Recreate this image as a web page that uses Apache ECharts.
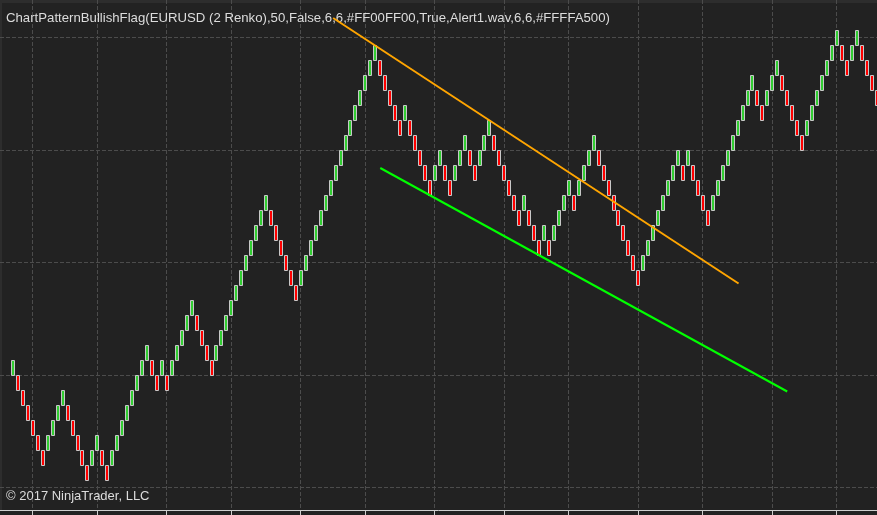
<!DOCTYPE html>
<html>
<head>
<meta charset="utf-8">
<script src="https://cdn.jsdelivr.net/npm/echarts@6/dist/echarts.min.js"></script>
<style>
html,body{margin:0;padding:0;background:#222222;overflow:hidden;}
#chart{width:877px;height:515px;}
</style>
</head>
<body>
<div id="chart"></div>
<script>
// ---- data (Renko bricks, in brick units) ----
const brickOpen = [
  0,0,-1,-2,-3,-4,-5,-5,-4,-3,
  -2,-2,-3,-4,-5,-6,-6,-5,-5,-6,
  -6,-5,-4,-3,-2,-1,0,1,1,0,
  0,0,0,1,2,3,4,4,3,2,
  1,1,2,3,4,5,6,7,8,9,
  10,11,11,10,9,8,7,6,6,7,
  8,9,10,11,12,13,14,15,16,17,
  18,19,20,21,21,20,19,18,17,17,
  17,16,15,14,13,13,14,14,13,13,
  14,15,15,14,14,15,16,16,15,14,
  13,12,11,11,11,10,9,9,9,9,
  10,11,12,12,12,13,14,15,15,14,
  13,12,11,10,9,8,7,7,8,9,
  10,11,12,13,14,14,14,14,13,12,
  11,11,12,13,14,15,16,17,18,19,
  19,18,18,19,20,20,19,18,17,16,
  16,17,18,19,20,21,22,22,21,21,
  22,22,21,20,19
];
const brickClose = [
  1,-1,-2,-3,-4,-5,-6,-4,-3,-2,
  -1,-3,-4,-5,-6,-7,-5,-4,-6,-7,
  -5,-4,-3,-2,-1,0,1,2,0,-1,
  1,-1,1,2,3,4,5,3,2,1,
  0,2,3,4,5,6,7,8,9,10,
  11,12,10,9,8,7,6,5,7,8,
  9,10,11,12,13,14,15,16,17,18,
  19,20,21,22,20,19,18,17,16,18,
  16,15,14,13,12,14,15,13,12,14,
  15,16,14,13,15,16,17,15,14,13,
  12,11,10,12,10,9,8,10,8,10,
  11,12,13,11,13,14,15,16,14,13,
  12,11,10,9,8,7,6,8,9,10,
  11,12,13,14,15,13,15,13,12,11,
  10,12,13,14,15,16,17,18,19,20,
  18,17,19,20,21,19,18,17,16,15,
  17,18,19,20,21,22,23,21,20,22,
  23,21,20,19,18
];
// Flag lines: [barIndex, level]
const upperFlagLine = [[64.5, 23.8], [146.2, 6.1]];
const lowerFlagLine = [[74, 13.8], [156, -1.1]];
// Grid positions (bar indices for time gridlines, levels for price gridlines)
const timeGridBars = [4, 17, 31, 44, 58, 71, 85, 99, 112, 126, 139, 153, 166];
const priceGridLevels = [22.5, 15, 7.5, 0, -7.5];
const titleText = 'ChartPatternBullishFlag(EURUSD (2 Renko),50,False,6,6,#FF00FF00,True,Alert1.wav,6,6,#FFFFA500)';
const copyrightText = '\u00A9 2017 NinjaTrader, LLC';

// ---- chart ----
const X_MIN = -2.62, X_MAX = 174.09, Y_MIN = -9, Y_MAX = 25;
const UP = '#32cd32', DOWN = '#ff0000', OUTLINE = '#c8c8c8';
const GRID = '#4c4c4c', AXIS = '#cfcfcf', TEXT = '#dcdcdc';
const FONT = '"Liberation Sans", Arial, sans-serif';

const bricks = brickOpen.map((o, i) => [i, o, brickClose[i]]);

const chart = echarts.init(document.getElementById('chart'), null, {renderer: 'canvas'});
chart.setOption({
  animation: false,
  backgroundColor: '#222222',
  title: [
    {text: titleText, left: 6, top: 12, padding: 0, z: 1,
     textStyle: {color: TEXT, fontSize: 13.2, fontWeight: 'normal', fontFamily: FONT}},
    {text: copyrightText, left: 6, top: 490, padding: 0, z: 1,
     textStyle: {color: TEXT, fontSize: 13, fontWeight: 'normal', fontFamily: FONT}}
  ],
  graphic: [
    {type: 'rect', left: 0, top: 0, shape: {width: 877, height: 3}, style: {fill: '#2d2d2d'}, z: -1, silent: true},
    {type: 'rect', left: 0, top: 0, shape: {width: 2, height: 510}, style: {fill: '#2d2d2d'}, z: -1, silent: true}
  ],
  grid: {left: 0, right: 0, top: 0, bottom: 5},
  xAxis: {
    type: 'value', min: X_MIN, max: X_MAX,
    axisLine: {show: true, onZero: false, lineStyle: {color: AXIS, width: 1}},
    axisTick: {show: false}, axisLabel: {show: false}, splitLine: {show: false}
  },
  yAxis: {
    type: 'value', min: Y_MIN, max: Y_MAX,
    axisLine: {show: false}, axisTick: {show: false}, axisLabel: {show: false}, splitLine: {show: false}
  },
  series: [
    {
      type: 'custom', name: 'timeGrid', silent: true, z: 1,
      data: timeGridBars.map(b => [b, 0]),
      renderItem(params, api) {
        const cs = params.coordSys;
        const x = Math.floor(api.coord([api.value(0), 0])[0]) + 0.5;
        const yb = cs.y + cs.height;
        return {type: 'group', children: [
          {type: 'line', shape: {x1: x, y1: cs.y, x2: x, y2: yb}, style: {stroke: GRID, lineWidth: 1, lineDash: [4, 2]}},
          {type: 'line', shape: {x1: x, y1: yb, x2: x, y2: yb + 6}, style: {stroke: AXIS, lineWidth: 1}}
        ]};
      }
    },
    {
      type: 'custom', name: 'priceGrid', silent: true, z: 1,
      data: priceGridLevels.map(v => [0, v]),
      renderItem(params, api) {
        const cs = params.coordSys;
        const y = Math.floor(api.coord([0, api.value(1)])[1]) + 0.5;
        return {type: 'line', shape: {x1: cs.x, y1: y, x2: cs.x + cs.width, y2: y},
                style: {stroke: GRID, lineWidth: 1, lineDash: [4, 2]}};
      }
    },
    {
      type: 'custom', name: 'EURUSD (2 Renko)', z: 3,
      data: bricks,
      encode: {x: 0, y: [1, 2]},
      renderItem(params, api) {
        const i = api.value(0), o = api.value(1), c = api.value(2);
        const pTop = api.coord([i, Math.max(o, c)]);
        const pBot = api.coord([i, Math.min(o, c)]);
        const col = Math.round(pTop[0]);
        const yt = Math.round(pTop[1]), yb = Math.round(pBot[1]);
        return {type: 'rect',
          shape: {x: col - 1.5, y: yt + 0.5, width: 3, height: yb - yt},
          style: {fill: c > o ? UP : DOWN, stroke: OUTLINE, lineWidth: 1}};
      }
    },
    {
      type: 'line', name: 'upper', data: upperFlagLine, z: 5, showSymbol: false, silent: true,
      lineStyle: {color: '#ffa500', width: 2}
    },
    {
      type: 'line', name: 'lower', data: lowerFlagLine, z: 5, showSymbol: false, silent: true,
      lineStyle: {color: '#00ff00', width: 2}
    }
  ]
});
</script>
</body>
</html>
